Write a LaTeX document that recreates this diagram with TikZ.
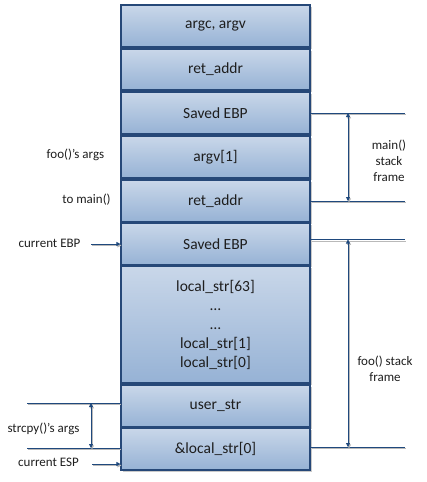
\documentclass[tikz,border=0pt]{standalone}
\usepackage{fontspec}
\setmainfont{Carlito}
\usepackage{xcolor}
\usetikzlibrary{arrows.meta,shadows}

\definecolor{slottop}{RGB}{201,215,233}
\definecolor{slotbot}{RGB}{150,178,213}
\definecolor{slotline}{RGB}{38,72,120}
\definecolor{guideline}{RGB}{31,73,125}
\definecolor{txt}{RGB}{30,30,30}

\tikzset{
  slot/.style={draw=slotline, line width=1.1pt, top color=slottop, bottom color=slotbot,
    minimum width=189pt, inner sep=0pt, align=center, text=txt,
    font=\fontsize{15.5}{19}\selectfont,
    drop shadow={shadow xshift=1.6pt, shadow yshift=-1.6pt, fill=gray!70, opacity=0.6}},
  guide/.style={draw=guideline, line width=0.8pt,
    preaction={draw=gray!55, line width=0.8pt, transform canvas={shift={(1pt,-1.4pt)}}}},
  tip/.style={-{Triangle[length=4pt,width=4pt]}},
  tips/.style={{Triangle[length=4pt,width=4pt]}-{Triangle[length=4pt,width=4pt]}},
  lbl/.style={align=center, text=txt, font=\fontsize{13}{16}\selectfont}
}

\begin{document}
\begin{tikzpicture}[x=1pt, y=-1pt]
\useasboundingbox (0,0) rectangle (426,482);

\node[slot, minimum height=42pt] (argcv) at (215.5,26) {argc, argv};
\node[slot, minimum height=41pt] (retmain) at (215.5,69.5) {ret\_addr};
\node[slot, minimum height=42pt] (ebpmain) at (215.5,113) {Saved EBP};
\node[slot, minimum height=42pt] (argvone) at (215.5,157) {argv[1]};
\node[slot, minimum height=42pt] (retfoo) at (215.5,201) {ret\_addr};
\node[slot, minimum height=42pt] (ebpfoo) at (215.5,244) {Saved EBP};
\node[slot, minimum height=117pt] (localstr) at (215.5,324.5)
  {local\_str[63]\\…\\…\\local\_str[1]\\local\_str[0]};
\node[slot, minimum height=42pt] (userstr) at (215.5,406) {user\_str};
\node[slot, minimum height=42pt] (addrstr) at (215.5,449) {\&local\_str[0]};

% main() frame
\coordinate (mtop) at (405,113);
\coordinate (mbot) at (405,201);
\coordinate (mtopa) at (348,113);
\coordinate (mbota) at (348,201);
\draw[guide] (ebpmain.east) -- (mtop);
\draw[guide] (retfoo.east) -- (mbot);
\draw[guide, tips] (mtopa) -- (mbota);
\node[lbl] (mainlbl) at (389,161) {main()\\stack\\frame};

% foo() frame
\coordinate (ftop) at (405,239.5);
\coordinate (fbot) at (405,447);
\coordinate (ftopa) at (348,239.5);
\coordinate (fbota) at (348,447);
\draw[guide] ([yshift=4.5pt]ebpfoo.east) -- (ftop);
\draw[guide] ([yshift=2pt]addrstr.east) -- (fbot);
\draw[guide, tips] (ftopa) -- (fbota);
\node[lbl] (foolbl) at (385,369) {foo() stack\\frame};

% left side
\node[lbl] (fooargs) at (75.5,155) {foo()’s args};
\node[lbl] (tomain) at (86.5,200) {to main()};
\node[lbl] (curebp) at (49.5,243) {current EBP};
\coordinate (ebpin) at (91,244);
\draw[guide, tip] (ebpin) -- (ebpfoo.west);

\node[lbl] (strargs) at (43.5,429) {strcpy()’s args};
\coordinate (stop) at (27,403);
\coordinate (sbot) at (27,448);
\coordinate (stopa) at (91,403);
\coordinate (sbota) at (91,448);
\draw[guide] (stop) -- ([yshift=3pt]userstr.west);
\draw[guide] (sbot) -- ([yshift=1pt]addrstr.west);
\draw[guide, tips] (stopa) -- (sbota);

\node[lbl] (curesp) at (48.5,462) {current ESP};
\coordinate (espin) at (92,464);
\draw[guide, tip] (espin) -- ([yshift=-15pt]addrstr.west);
\end{tikzpicture}
\end{document}
